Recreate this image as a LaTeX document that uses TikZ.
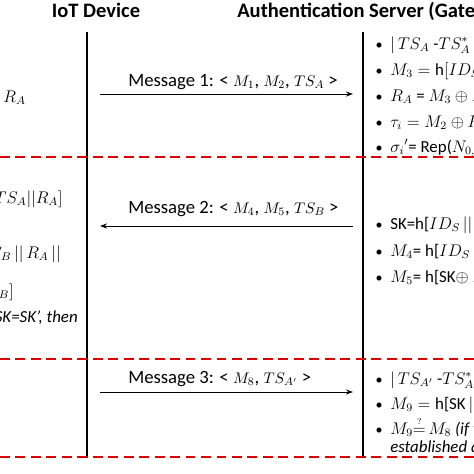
\documentclass[tikz,border=0pt]{standalone}
\usepackage{fontspec}
\setmainfont{Carlito}
\usepackage{amsmath}
\usetikzlibrary{arrows.meta}
\newcommand{\mth}[1]{{\fontsize{10.8}{12}\selectfont$#1$}}
\begin{document}
\begin{tikzpicture}[x=0.025cm,y=-0.025cm,
  title/.style={font=\fontsize{14.6}{16}\selectfont\bfseries, anchor=base, inner sep=0},
  msg/.style={font=\fontsize{13.3}{15}\selectfont, anchor=base west, inner sep=0},
  item/.style={font=\fontsize{12}{14}\selectfont, anchor=base west, inner sep=0},
  litem/.style={font=\fontsize{12}{14}\selectfont, anchor=base east, inner sep=0},
  dot/.style={font=\fontsize{10}{12}\selectfont, anchor=base, inner sep=0},
  life/.style={line width=1.1pt},
  sepline/.style={draw=red!85!black, dash pattern=on 7pt off 4pt, line width=0.9pt},
  arr/.style={-{Stealth[length=5pt,width=3.6pt]}, line width=0.7pt}]
\useasboundingbox (0,0) rectangle (474,474);
\clip (0,0) rectangle (474,474);
\fill[white] (0,0) rectangle (474,474);

% titles
\node[title] (t1) at (96,17) {IoT Device};
\node[title, anchor=base west] (t2) at (237,17) {Authentication Server (Gateway)};

% lifelines
\coordinate (l1top) at (87,32);
\coordinate (l1bot) at (87,458);
\coordinate (l2top) at (363,32);
\coordinate (l2bot) at (363,458);
\draw[life] (l1top) -- (l1bot);
\draw[life] (l2top) -- (l2bot);

% separators
\coordinate (s1a) at (0,157); \coordinate (s1b) at (474,157);
\coordinate (s2a) at (0,359); \coordinate (s2b) at (474,359);
\coordinate (s3a) at (0,457); \coordinate (s3b) at (474,457);
\draw[sepline] (s1a) -- (s1b);
\draw[sepline] (s2a) -- (s2b);
\draw[sepline] (s3a) -- (s3b);

% messages
\coordinate (m1a) at (100,94); \coordinate (m1b) at (353,94);
\draw[arr] (m1a) -- (m1b);
\node[msg] (m1) at (128,86) {Message 1: < \mth{M_1}, \mth{M_2}, \mth{TS_A} >};
\coordinate (m2a) at (353,226); \coordinate (m2b) at (100,226);
\draw[arr] (m2a) -- (m2b);
\node[msg] (m2) at (128,213) {Message 2: < \mth{M_4}, \mth{M_5}, \mth{TS_B} >};
\coordinate (m3a) at (100,392); \coordinate (m3b) at (353,392);
\draw[arr] (m3a) -- (m3b);
\node[msg] (m3) at (128,383) {Message 3: < \mth{M_8}, \mth{TS_{A'}} >};

% left side (cut-off) text
\node[litem] (la1) at (26,102) {$M_2 = \tau_i \oplus R_A$};
\node[litem] (la2) at (63,203) {$SK' = \mathrm{h}[ID_S\,||\,TS_A||R_A]$};
\node[litem] (la3) at (61,258) {$M_4' = \mathrm{h}[ID_S\,||\,TS_B\,||\,R_A\,||$};
\node[litem] (la4) at (14,296) {$TS_B]$};
\node[litem] (la5) at (78,322) {\itshape If SK=SK', then};

% right side bullets
\foreach \yy/\nm in {49/a,75/b,101/c,127/d,152/e,229/f,256/g,282/h,384/i,409/j,434/k}
  \node[dot] (b\nm) at (379,\yy) {•};
\node[item] (ra1) at (390,49) {$|\,TS_A$ -$TS_A^{*}\,|\leq \Delta T$};
\node[item] (ra2) at (390,75) {$M_3 = \mathrm{h}[ID_S\,||\,TS_A]$};
\node[item] (ra3) at (390,101) {$R_A$ = $M_3 \oplus M_1$};
\node[item] (ra4) at (390,127) {$\tau_i = M_2 \oplus R_A$};
\node[item] (ra5) at (390,152) {$\sigma_i{}'$= Rep($N_{0,B}$)};
\node[item] (rb1) at (390,229) {SK=h[$ID_S\,||\,TS_B$]};
\node[item] (rb2) at (390,256) {$M_4$= h[$ID_S$ $||$ SK]};
\node[item] (rb3) at (390,282) {$M_5$= h[SK$\oplus$ $R_A$]};
\node[item] (rc1) at (390,384) {$|\,TS_{A'}$ -$TS_{A'}^{*}\,|\leq \Delta T$};
\node[item] (rc2) at (390,409) {$M_9 = \mathrm{h}$[SK$\,||\,$]};
\node[item] (rc3) at (390,434) {$M_9{\overset{\scriptscriptstyle ?}{=}}\,M_8$ \itshape (if verified, session key};
\node[item] (rc4) at (390,452) {\itshape established and confirmed)};
\end{tikzpicture}
\end{document}
